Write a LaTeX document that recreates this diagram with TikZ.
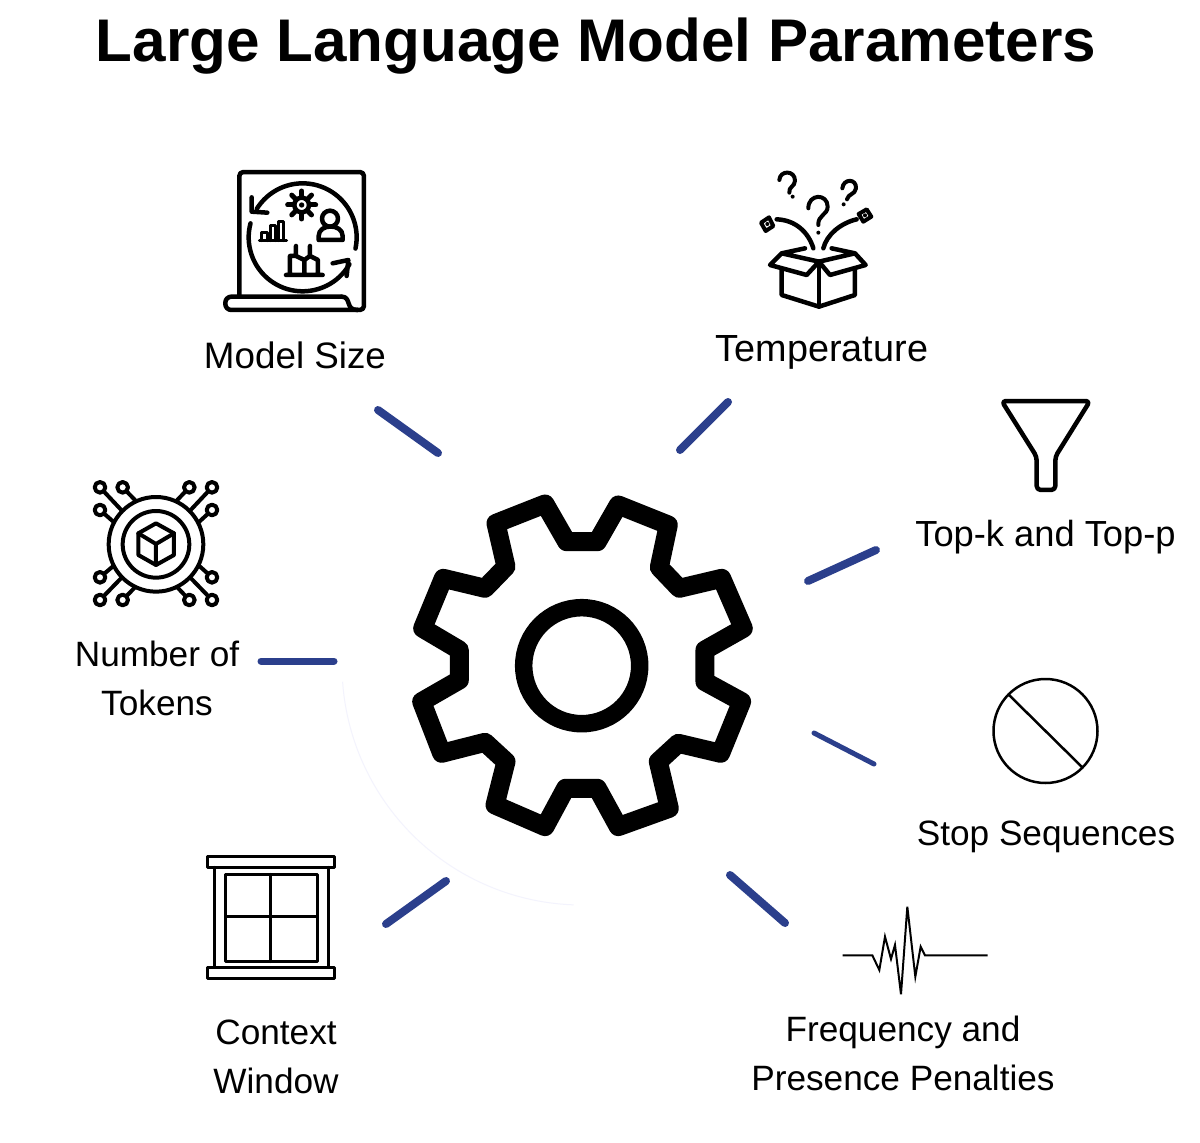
\documentclass[tikz,border=0pt]{standalone}
\usepackage{fontspec}
\usetikzlibrary{calc}
\setmainfont{Liberation Sans}
\definecolor{dashblue}{HTML}{2B3F8C}
\definecolor{faintarc}{HTML}{F3F3FD}
\tikzset{
  lbl/.style={font=\fontsize{35.2}{49}\selectfont,text=black,align=center,inner sep=0pt},
  ttl/.style={font=\bfseries\fontsize{60.2}{64}\selectfont,text=black,inner sep=0pt},
  bluedash/.style={draw=dashblue,line width=8pt,line cap=round},
  ico/.style={draw=black,line width=4.5pt,line join=round,line cap=round},
  thin ico/.style={draw=black,line width=3pt,line join=round,line cap=round},
}
\begin{document}
\begin{tikzpicture}[x=1pt,y=-1pt]
\useasboundingbox (0,0) rectangle (1200,1143);
\fill[white] (0,0) rectangle (1200,1143);
\node[ttl] (title) at (596,46) {Large Language Model Parameters};
% faint arc
\draw[faintarc,line width=1pt] plot[domain=176:92,samples=50,smooth] ({582+240*cos(\x)},{665+240*sin(\x)});
% gear
\begin{scope}[shift={(400,480)},x=0.3333pt,y=-0.3333pt]
\draw[black,line width=19pt,line join=round] (288,130)--(435,72)--(500,185)--(592,185)--(655,75)--(805,135)--(778,262)--(838,325)--(965,295)--(1030,445)--(915,510)--(915,605)--(1025,665)--(962,820)--(835,790)--(775,845)--(808,985)--(655,1040)--(592,925)--(497,925)--(435,1040)--(285,975)--(318,845)--(255,787)--(125,820)--(65,665)--(178,600)--(178,510)--(68,445)--(130,295)--(255,325)--(318,260)--cycle;
\end{scope}
\draw[black,line width=17.5pt] (581.7,665.7) circle[radius=58];
% model size icon
\begin{scope}[shift={(210,160)},x=0.3333pt,y=-0.3333pt]
\draw[ico,rounded corners=4pt] (88,405)--(88,36)--(462,36)--(462,450)--(442,450);
\draw[ico,rounded corners=6pt] (442,450)--(46,450)--(46,410)--(395,410);
\draw[ico] (395,410) .. controls (425,410) and (405,450) .. (442,450);
\draw[ico] plot[domain=212:372,samples=40,smooth] ({278+162*cos(\x)},{232+162*sin(\x)});
\draw[ico] (125,155)--(125,112) (125,155)--(172,158);
\draw[ico] plot[domain=195:30,samples=40,smooth] ({278+162*cos(\x)},{232+162*sin(\x)});
\draw[ico] (368,310)--(415,300)--(410,348);
\draw[ico] (275,135) circle[radius=22];
\fill (275,135) circle[radius=8];
\foreach \a in {0,45,...,315}{\draw[ico,line width=5pt] ($(275,135)+({24*cos(\a)},{24*sin(\a)})$)--($(275,135)+({42*cos(\a)},{42*sin(\a)})$);}
\draw[thin ico] (148,242)--(230,242) (155,242)--(155,218)--(172,218)--(172,242) (183,242)--(183,197)--(197,197)--(197,242) (207,242)--(207,184)--(222,184)--(222,242);
\draw[ico] (360,176) circle[radius=24];
\draw[ico] (326,240)--(398,240)--(398,228) .. controls (398,190) and (326,190) .. (326,228)--cycle;
\draw[ico] (228,345)--(338,345) (240,345)--(240,288)--(258,288)--(258,258) (258,288)--(283,300)--(283,345) (283,300)--(300,288)--(300,258) (300,288)--(324,300)--(324,345);
\end{scope}
% temperature icon
\begin{scope}[shift={(745,160)},x=0.3333pt,y=-0.3333pt]
\draw[ico,line width=4pt] (103,60) .. controls (105,30) and (150,30) .. (150,62) .. controls (150,80) and (130,80) .. (133,98);
\fill (143,110) circle[radius=6];
\draw[ico,line width=4pt] (190,145) .. controls (190,100) and (248,100) .. (248,140) .. controls (248,165) and (218,165) .. (220,195);
\fill (220,218) circle[radius=6];
\draw[ico,line width=4pt] (292,85) .. controls (295,55) and (335,55) .. (333,85) .. controls (330,105) and (310,100) .. (306,118);
\fill (296,133) circle[radius=6];
\draw[ico,line width=4pt] (48,188)--(72,172)--(85,198)--(62,213)--cycle;
\fill (67,192) circle[radius=6];
\draw[ico,line width=4pt] (341,162)--(365,148)--(379,170)--(355,185)--cycle;
\fill (360,166) circle[radius=6];
\draw[ico] (95,178) .. controls (150,180) and (190,215) .. (205,265);
\draw[ico] (335,178) .. controls (285,190) and (245,225) .. (235,265);
\draw[ico] (180,265)--(110,280)--(75,315)--(185,345)--(222,305)--(110,280);
\draw[ico] (260,265)--(330,280)--(362,315)--(255,345)--(222,305)--(330,280);
\draw[ico] (110,330)--(110,405)--(222,440)--(330,405)--(330,330);
\draw[ico] (222,305)--(222,440);
\end{scope}
% funnel icon
\begin{scope}[shift={(985,390)},x=0.3333pt,y=-0.3333pt]
\draw[black,line width=4.5pt,line join=round,rounded corners=4pt] (50,33)--(315,33)--(211,200)--(211,300)--(155,300)--(155,200)--cycle;
\end{scope}
% tokens icon
\begin{scope}[shift={(80,470)},x=0.3333pt,y=-0.3333pt,ico/.append style={line width=4pt}]
\draw[ico] (228,223) circle[radius=142] (228,223) circle[radius=100];
\draw[ico] (228,160)--(282,190)--(282,255)--(228,285)--(175,255)--(175,190)--cycle;
\draw[ico] (175,190)--(228,222)--(282,190) (228,222)--(228,285);
\foreach \px/\py/\ex/\ey in {60/52/122/118,128/52/165/90,60/120/100/155,396/52/334/118,328/52/292/90,396/120/358/155,60/390/122/326,128/390/165/352,60/322/100/288,396/390/334/326,328/390/292/352,396/322/358/288}{
  \draw[ico] (\px,\py) circle[radius=16];
  \draw[ico] ($(\px,\py)!5.33pt!(\ex,\ey)$)--(\ex,\ey);
}
\end{scope}
% window icon
\begin{scope}[shift={(195,845)},x=0.3333pt,y=-0.3333pt]
\draw[thin ico] (38,33) rectangle (420,67) (38,367) rectangle (420,402);
\draw[thin ico] (57,67)--(57,367) (400,67)--(400,367);
\draw[thin ico] (92,88) rectangle (367,350);
\draw[thin ico] (228,88)--(228,350) (92,215)--(367,215);
\end{scope}
% stop icon
\draw[black,line width=2.5pt] (1045.5,731) circle[radius=52];
\draw[black,line width=2.5pt] (1009,695)--(1083,768);
% pulse icon
\begin{scope}[shift={(830,895)},x=0.3333pt,y=-0.3333pt]
\draw[black,line width=2pt,line join=miter] (38,181)--(127,181)--(148,225)--(165,125)--(183,192)--(195,150)--(213,298)--(232,35)--(256,245)--(272,155)--(285,181)--(473,181);
\end{scope}
% labels
\node[lbl,font=\fontsize{36.8}{49}\selectfont] (lsize) at (295,355) {Model Size};
\node[lbl,font=\fontsize{37.8}{49}\selectfont] (ltemp) at (822,352) {Temperature};
\node[lbl,font=\fontsize{36.3}{49}\selectfont] (ltop) at (1045.5,537) {Top-k and Top-p};
\node[lbl] (lstop) at (1046,837) {Stop Sequences};
\node[lbl] (lfreq) at (903,1053) {Frequency and\\Presence Penalties};
\node[lbl] (lctx) at (276,1057) {Context\\Window};
\node[lbl] (ltok) at (157,678) {Number of\\Tokens};
% dashes
\coordinate (d1a) at (378,410); \coordinate (d1b) at (438,453);
\coordinate (d2a) at (728,402); \coordinate (d2b) at (680,450);
\coordinate (d3a) at (876,550); \coordinate (d3b) at (808,581);
\coordinate (d4a) at (814,733); \coordinate (d4b) at (874,764);
\coordinate (d5a) at (730,875); \coordinate (d5b) at (785,923);
\coordinate (d6a) at (446,881); \coordinate (d6b) at (386,924);
\coordinate (d7a) at (261,661); \coordinate (d7b) at (334,661);
\draw[bluedash] (d1a)--(d1b);
\draw[bluedash] (d2a)--(d2b);
\draw[bluedash] (d3a)--(d3b);
\draw[bluedash,line width=5pt] (d4a)--(d4b);
\draw[bluedash] (d5a)--(d5b);
\draw[bluedash] (d6a)--(d6b);
\draw[bluedash,line width=7pt] (d7a)--(d7b);
\end{tikzpicture}
\end{document}
